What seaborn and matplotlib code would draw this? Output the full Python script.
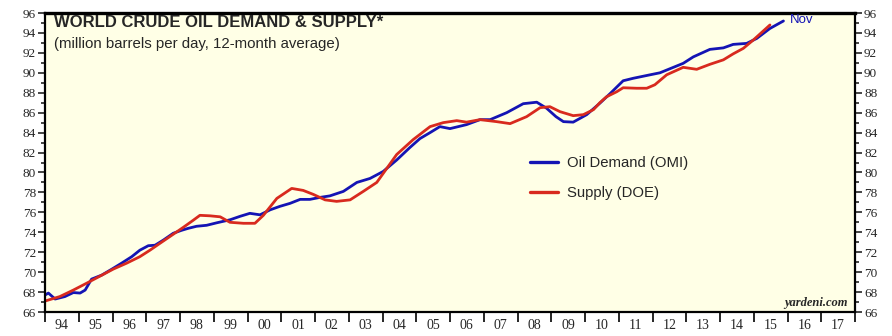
import matplotlib
matplotlib.use("Agg")
import matplotlib.pyplot as plt
import seaborn as sns
import pandas as pd
from matplotlib.lines import Line2D
from matplotlib.ticker import MultipleLocator, FixedLocator, FixedFormatter, NullFormatter

# World oil demand (OMI), 12-month average, million barrels per day
demand_years = [
    1994.00, 1994.10, 1994.30, 1994.59, 1994.84, 1995.04, 1995.19, 1995.38, 1995.68, 1995.98,
    1996.27, 1996.57, 1996.81, 1997.06, 1997.26, 1997.50, 1997.80, 1998.05, 1998.25, 1998.49,
    1998.79, 1999.09, 1999.48, 1999.78, 2000.07, 2000.37, 2000.67, 2000.96, 2001.26, 2001.56,
    2001.85, 2002.15, 2002.44, 2002.84, 2003.24, 2003.63, 2004.02, 2004.42, 2004.81, 2005.11,
    2005.41, 2005.70, 2006.00, 2006.49, 2006.89, 2007.19, 2007.68, 2008.17, 2008.57, 2008.86,
    2009.14, 2009.36, 2009.65, 2010.05, 2010.44, 2010.74, 2011.13, 2011.43, 2011.93, 2012.22,
    2012.62, 2012.91, 2013.21, 2013.70, 2014.10, 2014.39, 2014.79, 2015.09, 2015.48, 2015.88,
]
demand_values = [
    67.7, 67.9, 67.3, 67.55, 67.95, 67.9, 68.2, 69.3, 69.7, 70.3,
    70.9, 71.55, 72.2, 72.65, 72.7, 73.2, 73.9, 74.2, 74.4, 74.6,
    74.7, 74.95, 75.25, 75.6, 75.9, 75.75, 76.25, 76.6, 76.9, 77.3,
    77.3, 77.5, 77.65, 78.1, 79.0, 79.4, 80.1, 81.25, 82.5, 83.4,
    84.0, 84.6, 84.4, 84.8, 85.3, 85.3, 86.0, 86.9, 87.05, 86.45,
    85.6, 85.1, 85.05, 85.8, 86.95, 87.9, 89.2, 89.45, 89.8, 90.0,
    90.55, 90.95, 91.6, 92.35, 92.5, 92.85, 92.95, 93.45, 94.45, 95.2,
]

# World oil supply (DOE), 12-month average, million barrels per day
supply_years = [
    1994.00, 1994.44, 1994.84, 1995.24, 1995.63, 1996.02, 1996.42, 1996.81, 1997.11, 1997.41,
    1997.80, 1998.10, 1998.39, 1998.59, 1998.89, 1999.19, 1999.48, 1999.88, 2000.22, 2000.47,
    2000.87, 2001.31, 2001.65, 2001.95, 2002.30, 2002.64, 2003.04, 2003.43, 2003.83, 2004.02,
    2004.42, 2004.91, 2005.41, 2005.80, 2006.20, 2006.49, 2006.89, 2007.38, 2007.78, 2008.27,
    2008.67, 2008.96, 2009.26, 2009.65, 2009.95, 2010.25, 2010.44, 2010.64, 2010.94, 2011.13,
    2011.53, 2011.83, 2012.07, 2012.42, 2012.91, 2013.31, 2013.70, 2014.10, 2014.39, 2014.69,
    2014.99, 2015.48,
]
supply_values = [
    67.1, 67.55, 68.2, 68.9, 69.6, 70.3, 70.9, 71.55, 72.2, 72.9,
    73.8, 74.5, 75.2, 75.7, 75.65, 75.55, 75.0, 74.9, 74.9, 75.7,
    77.4, 78.4, 78.2, 77.8, 77.25, 77.1, 77.25, 78.1, 79.0, 79.9,
    81.8, 83.3, 84.6, 85.0, 85.2, 85.05, 85.3, 85.1, 84.9, 85.6,
    86.5, 86.6, 86.1, 85.7, 85.8, 86.3, 87.0, 87.6, 88.1, 88.5,
    88.45, 88.45, 88.8, 89.8, 90.55, 90.35, 90.85, 91.3, 91.9, 92.45,
    93.3, 94.8,
]

year_labels = ["94", "95", "96", "97", "98", "99", "00", "01", "02", "03", "04", "05",
               "06", "07", "08", "09", "10", "11", "12", "13", "14", "15", "16", "17"]

series_names = ["Oil Demand (OMI)", "Supply (DOE)"]
series_colors = ["#1414B4", "#D82A1E"]

sns.set_style("white")
plt.rcParams["font.family"] = ["Liberation Sans", "DejaVu Sans"]

df = pd.concat([
    pd.DataFrame({"year": demand_years, "value": demand_values, "series": series_names[0]}),
    pd.DataFrame({"year": supply_years, "value": supply_values, "series": series_names[1]}),
], ignore_index=True)

W, H = 892, 336
fig = plt.figure(figsize=(W / 100, H / 100), dpi=100)
fig.patch.set_facecolor("white")
ax = fig.add_axes([45 / W, 24 / H, 810 / W, 299 / H])
ax.set_facecolor("#FFFFE6")

sns.lineplot(data=df, x="year", y="value", hue="series", hue_order=series_names,
             palette=dict(zip(series_names, series_colors)), linewidth=2.0,
             estimator=None, sort=False, legend=False, ax=ax)

ax.set_xlim(1994, 2018)
ax.set_ylim(66, 96)
ax.set_xlabel("")
ax.set_ylabel("")

# y axis: labels and ticks on both sides
ax.yaxis.set_major_locator(MultipleLocator(2))
ax.yaxis.set_minor_locator(MultipleLocator(1))
ax.tick_params(axis="y", which="both", left=True, right=True, labelleft=True,
               labelright=True, direction="out", width=1.2, pad=1.5, labelsize=9.5)
ax.tick_params(axis="y", which="major", length=5)
ax.tick_params(axis="y", which="minor", length=3)

# x axis: ticks at year boundaries, labels centred within each year
ax.xaxis.set_major_locator(FixedLocator(list(range(1994, 2019))))
ax.xaxis.set_major_formatter(NullFormatter())
ax.xaxis.set_minor_locator(FixedLocator([1994.5 + i for i in range(len(year_labels))]))
ax.xaxis.set_minor_formatter(FixedFormatter(year_labels))
ax.tick_params(axis="x", which="major", bottom=True, direction="out", length=7, width=1.4)
ax.tick_params(axis="x", which="minor", bottom=True, length=0, pad=5, labelsize=10)

for lab in ax.get_yticklabels() + ax.get_xticklabels(minor=True):
    lab.set_fontfamily("Liberation Serif")

for side in ["left", "right", "bottom"]:
    ax.spines[side].set_linewidth(1.6)
    ax.spines[side].set_color("black")
ax.spines["top"].set_linewidth(2.4)
ax.spines["top"].set_color("black")

handles = [Line2D([], [], color=c, lw=2.4) for c in series_colors]
ax.legend(handles, series_names, loc="upper left", bbox_to_anchor=(0.586, 0.555),
          frameon=False, fontsize=10.7, handlelength=1.9, handletextpad=0.6,
          labelspacing=1.03, borderpad=0.2)

fig.text(54 / W, 1 - 15 / H, "WORLD CRUDE OIL DEMAND & SUPPLY*", fontsize=12,
         fontweight="bold", ha="left", va="top")
fig.text(54 / W, 1 - 37 / H, "(million barrels per day, 12-month average)",
         fontsize=10.8, ha="left", va="top")

ax.text(demand_years[-1] + 0.2, demand_values[-1] + 0.05, "Nov", color=series_colors[0],
        fontsize=9.5, ha="left", va="center")

fig.text(848 / W, 1 - 303 / H, "yardeni.com", fontsize=9, fontstyle="italic",
         fontweight="bold", family="Liberation Serif", ha="right", va="center")

fig.savefig("out.png", dpi=100)
